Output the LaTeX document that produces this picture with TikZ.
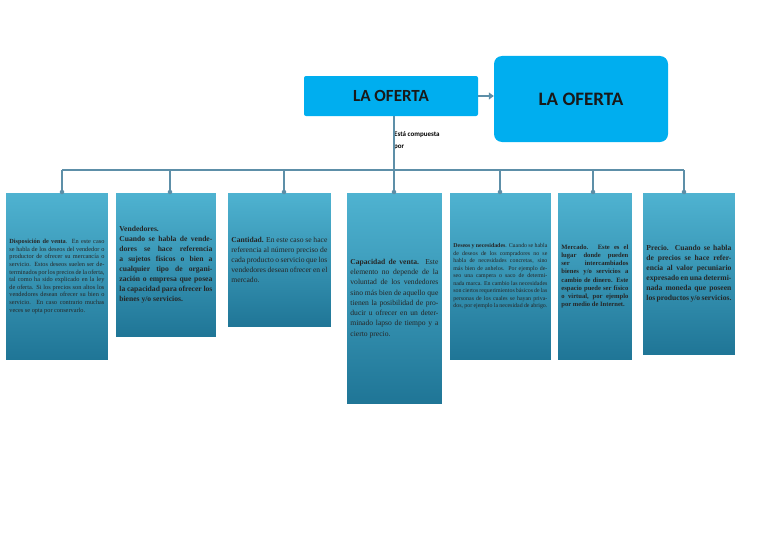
\documentclass[tikz,border=0pt]{standalone}
\usepackage{fontspec}
\setmainfont{Liberation Serif}
\newfontfamily\carl{Carlito}
\usetikzlibrary{arrows.meta}
\definecolor{cyanb}{HTML}{00AEEF}
\definecolor{topc}{HTML}{4FB3D1}
\definecolor{botc}{HTML}{1F7596}
\definecolor{lnc}{HTML}{5D8FA8}
\tikzset{
 card/.style={draw=white,line width=0.8pt,top color=topc,bottom color=botc,anchor=north west,inner xsep=4pt,inner ysep=4pt,align=justify,font=\fontsize{6.3}{7.6}\selectfont,text=black!85},
 cardb/.style={card,font=\bfseries\fontsize{7.6}{10}\selectfont},
 ttl/.style={fill=cyanb,font=\carl\bfseries,text=black!90},
 ln/.style={draw=lnc,line width=1.6pt},
 dot/.style={circle,fill=lnc,inner sep=1.6pt}
}
\begin{document}
\begin{tikzpicture}[x=1pt,y=-1pt]
\useasboundingbox (0,0) rectangle (768,543);
\node[ttl,minimum width=174pt,minimum height=40pt,rounded corners=2pt,font=\carl\bfseries\fontsize{17}{20}\selectfont] (t1) at (391,96) {LA OFERTA};
\node[ttl,minimum width=174pt,minimum height=86pt,rounded corners=8pt,font=\carl\bfseries\fontsize{19}{22}\selectfont] (t2) at (581,99) {LA OFERTA};
\draw[ln,-{Triangle[length=5pt,width=7pt]}] (t1.east) -- (t2.west|-t1.east);
\node[anchor=north west,font=\carl\bfseries\fontsize{7}{12}\selectfont,align=left,inner sep=0pt] (lbl) at (394,131) {Está compuesta\\por};
\coordinate (bus) at (394,170);
\draw[ln] (t1.south -| bus) -- (bus);
\coordinate (bl) at (62,170); \coordinate (br) at (684,170);
\draw[ln] (bl) -- (br);
\node[card,text width=95pt,minimum height=168pt] (c1) at (5,192) {\textbf{Disposición de venta}. En este caso se habla de los deseos del vendedor o productor de ofrecer su mercancía o servicio. Estos deseos suelen ser determinados por los precios de la oferta, tal como ha sido explicado en la ley de oferta. Si los precios son altos los vendedores desean ofrecer su bien o servicio. En caso contrario muchas veces se opta por conservarlo.};
\node[cardb,text width=93pt,minimum height=145pt] (c2) at (115,192) {Vendedores.\\Cuando se habla de vendedores se hace referencia a sujetos físicos o bien a cualquier tipo de organización o empresa que posea la capacidad para ofrecer los bienes y/o servicios.};
\node[card,font=\fontsize{7.6}{10}\selectfont,text width=96pt,minimum height=135pt] (c3) at (227,192) {\textbf{Cantidad.} En este caso se hace referencia al número preciso de cada producto o servicio que los vendedores desean ofrecer en el mercado.};
\node[card,font=\fontsize{7.6}{10.3}\selectfont,text width=88pt,minimum height=212pt] (c4) at (346,192) {\textbf{Capacidad de venta.} Este elemento no depende de la voluntad de los vendedores sino más bien de aquello que tienen la posibilidad de producir u ofrecer en un determinado lapso de tiempo y a cierto precio.};
\node[card,font=\fontsize{5.9}{7.5}\selectfont,text width=94pt,minimum height=168pt] (c5) at (449,192) {\textbf{Deseos y necesidades}. Cuando se habla de deseos de los compradores no se habla de necesidades concretas, sino más bien de anhelos. Por ejemplo deseo una campera o saco de determinada marca. En cambio las necesidades son ciertos requerimientos básicos de las personas de los cuales se hayan privados, por ejemplo la necesidad de abrigo.};
\node[cardb,font=\bfseries\fontsize{6.6}{8.2}\selectfont,text width=67pt,minimum height=168pt] (c6) at (557,192) {Mercado. Este es el lugar donde pueden ser intercambiados bienes y/o servicios a cambio de dinero. Este espacio puede ser físico o virtual, por ejemplo por medio de Internet.};
\node[cardb,text width=85pt,minimum height=163pt] (c7) at (642,192) {Precio. Cuando se habla de precios se hace referencia al valor pecuniario expresado en una determinada moneda que poseen los productos y/o servicios.};
\foreach \c/\x in {c1/62,c2/170,c3/284,c4/394,c5/500,c6/593,c7/684}{
  \coordinate (d\c) at (\x,170);
  \draw[ln] (d\c) -- (\c.north -| d\c);
  \node[dot] at (\c.north -| d\c) {};
}
\end{tikzpicture}
\end{document}
